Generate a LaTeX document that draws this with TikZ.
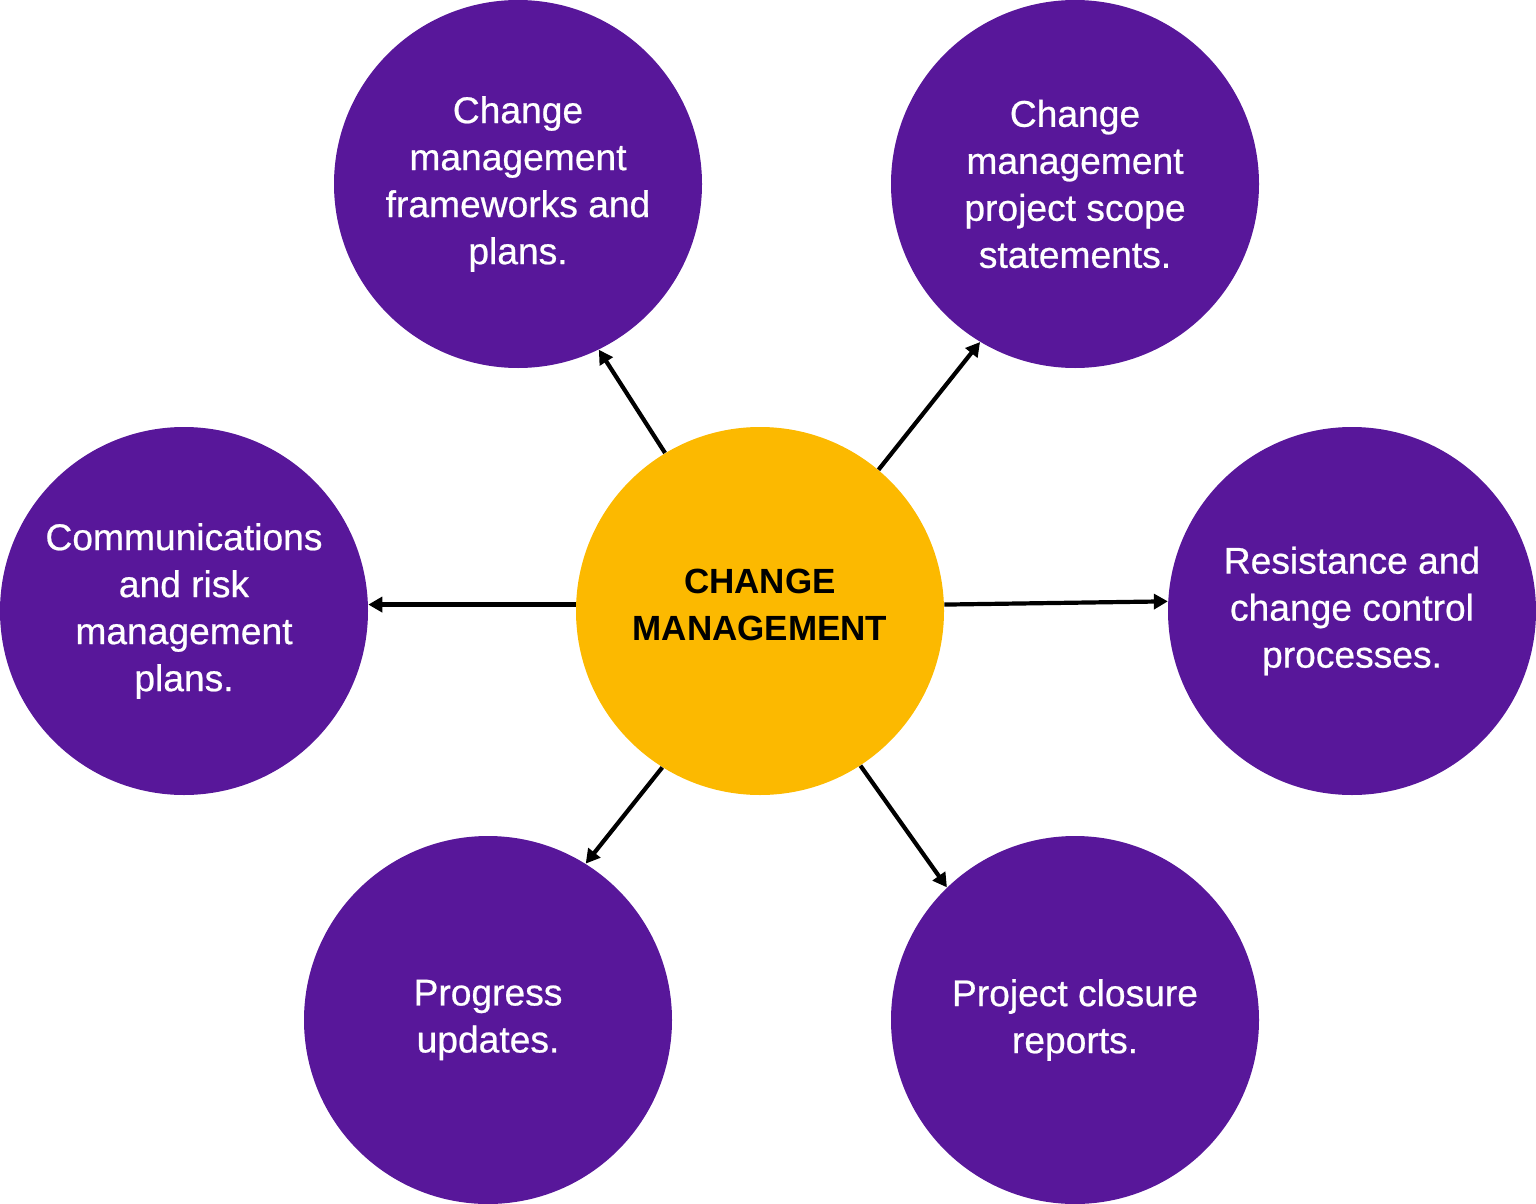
\documentclass[tikz,border=0pt]{standalone}
\usepackage{fontspec}
\setmainfont{Liberation Sans}
\newfontfamily\labelfont{Liberation Sans}[FakeBold=0.6]
\usetikzlibrary{arrows.meta, positioning}

\definecolor{cmpurple}{RGB}{88,23,154}
\definecolor{cmyellow}{RGB}{252,185,0}

\begin{document}
\begin{tikzpicture}[
    x=0.5pt, y=-0.5pt,
    % Styles
    bubble/.style={circle, fill=cmpurple, text=white, minimum size=184pt, inner sep=0pt, align=center,
        font=\labelfont\fontsize{18.6pt}{23.5pt}\selectfont},
    hub/.style={bubble, fill=cmyellow, text=black, text depth=6pt, font=\fontsize{17.5pt}{23.5pt}\selectfont\bfseries},
    wire/.style={-{Triangle[length=7pt, width=7.5pt]}, line width=2.1pt}
]
    \useasboundingbox (0,0) rectangle (1536,1204);

    % --- HUB ---
    \node[hub] (core) at (760, 611) {CHANGE\\MANAGEMENT};

    % --- TOP ROW ---
    \node[bubble] (frame) at (518, 184) {Change\\management\\frameworks and\\plans.};
    \node[bubble] (scope) at (1075, 184) {Change\\management\\project scope\\statements.};

    % --- MIDDLE ROW ---
    \node[bubble] (comms) at (184, 611) {Communications\\and risk\\management\\plans.};
    \node[bubble] (resist) at (1352, 611) {Resistance and\\change control\\processes.};

    % --- BOTTOM ROW ---
    \node[bubble] (progress) at (488, 1020) {Progress\\updates.};
    \node[bubble] (closure) at (1075, 1020) {Project closure\\reports.};

    % --- CONNECTIONS ---
    \draw[wire] (core.121) -- (frame.-64);
    \draw[wire] (core.50) -- (scope.239);
    \draw[wire] (core.178) -- (comms.2.5);
    \draw[wire] (core.2.8) -- (resist.177.5);
    \draw[wire] (core.-122) -- (progress.58);
    \draw[wire] (core.-57.6) -- (closure.134);

\end{tikzpicture}
\end{document}
